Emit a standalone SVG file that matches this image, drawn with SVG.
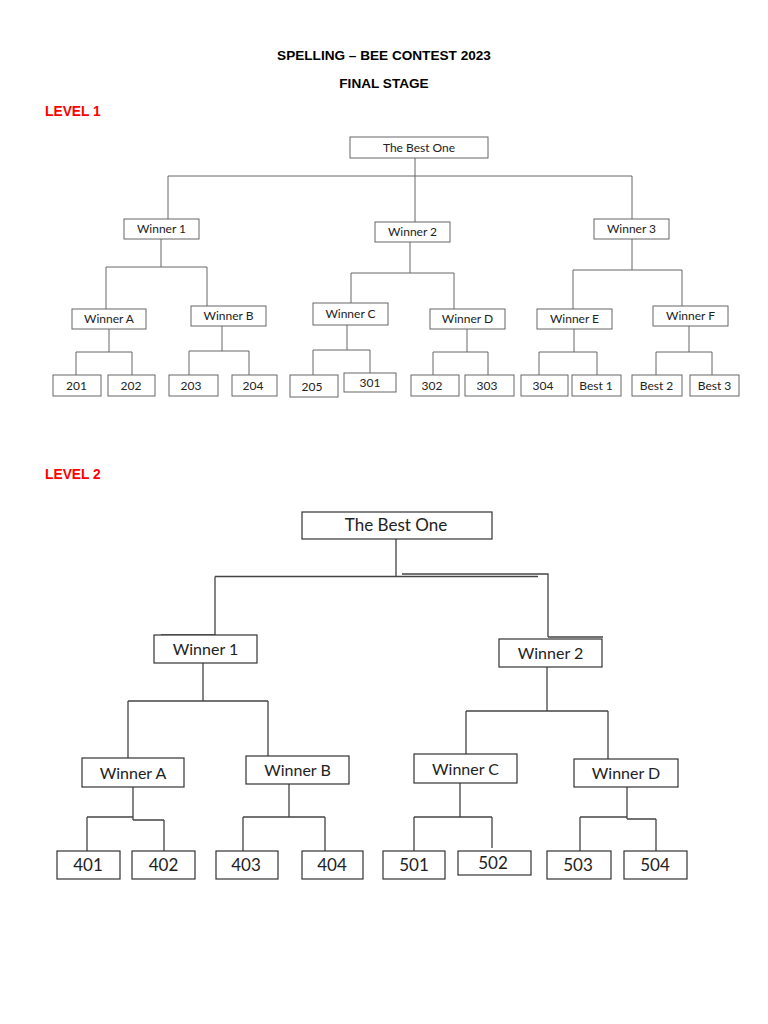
<svg xmlns="http://www.w3.org/2000/svg" width="768" height="1024" viewBox="0 0 768 1024">
<style>
.title{font-family:"Liberation Sans",Arial,sans-serif;font-weight:bold;font-size:13.6px;fill:#000;text-anchor:middle}
.lvl{font-family:"Liberation Sans",Arial,sans-serif;font-weight:bold;font-size:13.8px;fill:#ff0000}
.b1{fill:#fff;stroke:#666;stroke-width:1}
.t1{font-family:Lato,"Open Sans",sans-serif;font-size:12px;fill:#222;text-anchor:middle}
.b2{fill:#fff;stroke:#333;stroke-width:1.2}
.t2{font-family:Lato,"Open Sans",sans-serif;font-size:16px;fill:#222;text-anchor:middle}
.t2b{font-family:Lato,"Open Sans",sans-serif;font-size:17px;fill:#222;text-anchor:middle}
.c1{fill:none;stroke:#666;stroke-width:1}
.c2{fill:none;stroke:#444;stroke-width:1.3}
</style>
<rect width="768" height="1024" fill="#fff"/>
<text class="title" x="384" y="60">SPELLING – BEE CONTEST 2023</text>
<text class="title" x="384" y="88">FINAL STAGE</text>
<text class="lvl" x="45" y="116">LEVEL 1</text>
<text class="lvl" x="45" y="479">LEVEL 2</text>

<g id="connectors">
<!-- Level 1 -->
<path class="c1" d="M415 158V222M168 176H632M168 176V219M632 176V219"/>
<path class="c1" d="M161 239V267M106 267H207M106 267V309M207 267V306"/>
<path class="c1" d="M410 242V273M351 273H454M351 273V303M454 273V309"/>
<path class="c1" d="M632 239V270M573 270H682M573 270V309M682 270V306"/>
<path class="c1" d="M109 328V352M76 352H132M76 352V375M132 352V375"/>
<path class="c1" d="M222 326V351M189 351H249M189 351V375M249 351V375"/>
<path class="c1" d="M347 325V350M313 350H370M313 350V375M370 350V373"/>
<path class="c1" d="M467 329V352M433 352H488M433 352V375M488 352V375"/>
<path class="c1" d="M574 329V352M539 352H597M539 352V375M597 352V375"/>
<path class="c1" d="M689 326V352M656 352H712M656 352V375M712 352V375"/>
<!-- Level 2 -->
<path class="c2" d="M396 539V576.5M215 576.5H538M215 576.5V635M161 635H215"/>
<path class="c2" d="M402 574H548V637M548 637H603"/>
<path class="c2" d="M203 663V701M128 701H268M128 701V758M268 701V756"/>
<path class="c2" d="M547 667V711M466 711H608M466 711V754M608 711V759"/>
<path class="c2" d="M133 787V817M87 817H133M133 820H164M87 817V851M164 820V851M133 817V820"/>
<path class="c2" d="M289 784V817M243 817H325M243 817V851M325 817V851"/>
<path class="c2" d="M460 783V817M414 817H492M414 817V851M492 817V848"/>
<path class="c2" d="M627 787V819M580 817H627M627 819H656M580 817V851M656 819V851"/>
</g>

<!-- Level 1 nodes -->
<g id="l1-best"><rect class="b1" x="350" y="137" width="138" height="21"/><text class="t1" x="419" y="151.5">The Best One</text></g>
<g id="l1-w1"><rect class="b1" x="124" y="219" width="75" height="20"/><text class="t1" x="161.5" y="233">Winner 1</text></g>
<g id="l1-w2"><rect class="b1" x="375" y="222" width="75" height="20"/><text class="t1" x="412.5" y="236">Winner 2</text></g>
<g id="l1-w3"><rect class="b1" x="594" y="219" width="75" height="20"/><text class="t1" x="631.5" y="233">Winner 3</text></g>
<g id="l1-wa"><rect class="b1" x="72" y="309" width="74" height="20"/><text class="t1" x="109" y="323">Winner A</text></g>
<g id="l1-wb"><rect class="b1" x="191" y="306" width="75" height="20"/><text class="t1" x="228.5" y="320">Winner B</text></g>
<g id="l1-wc"><rect class="b1" x="313" y="303" width="75" height="22"/><text class="t1" x="350.5" y="318">Winner C</text></g>
<g id="l1-wd"><rect class="b1" x="430" y="309" width="75" height="20"/><text class="t1" x="467.5" y="323">Winner D</text></g>
<g id="l1-we"><rect class="b1" x="537" y="309" width="75" height="20"/><text class="t1" x="574.5" y="323">Winner E</text></g>
<g id="l1-wf"><rect class="b1" x="653" y="306" width="75" height="20"/><text class="t1" x="690.5" y="320">Winner F</text></g>
<g id="l1-201"><rect class="b1" x="53" y="375" width="48" height="21"/><text class="t1" x="76.5" y="390">201</text></g>
<g id="l1-202"><rect class="b1" x="108" y="375" width="47" height="21"/><text class="t1" x="131" y="390">202</text></g>
<g id="l1-203"><rect class="b1" x="169" y="375" width="49" height="21"/><text class="t1" x="191" y="390">203</text></g>
<g id="l1-204"><rect class="b1" x="232" y="375" width="45" height="21"/><text class="t1" x="253" y="390">204</text></g>
<g id="l1-205"><rect class="b1" x="290" y="375" width="48" height="22"/><text class="t1" x="312" y="390.5">205</text></g>
<g id="l1-301"><rect class="b1" x="344" y="373" width="52" height="19"/><text class="t1" x="370" y="387">301</text></g>
<g id="l1-302"><rect class="b1" x="411" y="375" width="48" height="21"/><text class="t1" x="432" y="390">302</text></g>
<g id="l1-303"><rect class="b1" x="465" y="375" width="49" height="21"/><text class="t1" x="487" y="390">303</text></g>
<g id="l1-304"><rect class="b1" x="521" y="375" width="47" height="21"/><text class="t1" x="543" y="390">304</text></g>
<g id="l1-best1"><rect class="b1" x="572" y="375" width="49" height="21"/><text class="t1" x="596" y="390">Best 1</text></g>
<g id="l1-best2"><rect class="b1" x="632" y="375" width="50" height="21"/><text class="t1" x="656.5" y="390">Best 2</text></g>
<g id="l1-best3"><rect class="b1" x="690" y="375" width="49" height="21"/><text class="t1" x="714.5" y="390">Best 3</text></g>

<!-- Level 2 nodes -->
<g id="l2-best"><rect class="b2" x="302" y="512" width="190" height="27"/><text class="t2b" x="396" y="531">The Best One</text></g>
<g id="l2-w1"><rect class="b2" x="154" y="635" width="103" height="28"/><text class="t2" x="205.5" y="654.5">Winner 1</text></g>
<g id="l2-w2"><rect class="b2" x="499" y="639" width="103" height="28"/><text class="t2" x="550.5" y="659">Winner 2</text></g>
<g id="l2-wa"><rect class="b2" x="82" y="758" width="102" height="29"/><text class="t2" x="133" y="778.5">Winner A</text></g>
<g id="l2-wb"><rect class="b2" x="246" y="756" width="103" height="28"/><text class="t2" x="297.5" y="775.5">Winner B</text></g>
<g id="l2-wc"><rect class="b2" x="414" y="754" width="103" height="29"/><text class="t2" x="465.5" y="774.5">Winner C</text></g>
<g id="l2-wd"><rect class="b2" x="574" y="759" width="104" height="28"/><text class="t2" x="626" y="778.5">Winner D</text></g>
<g id="l2-401"><rect class="b2" x="57" y="851" width="63" height="28"/><text class="t2b" x="88" y="871">401</text></g>
<g id="l2-402"><rect class="b2" x="132" y="851" width="63" height="28"/><text class="t2b" x="163.5" y="871">402</text></g>
<g id="l2-403"><rect class="b2" x="216" y="851" width="62" height="28"/><text class="t2b" x="246" y="871">403</text></g>
<g id="l2-404"><rect class="b2" x="302" y="851" width="61" height="28"/><text class="t2b" x="332" y="871">404</text></g>
<g id="l2-501"><rect class="b2" x="383" y="851" width="62" height="28"/><text class="t2b" x="414" y="871">501</text></g>
<g id="l2-502"><rect class="b2" x="458" y="851" width="73" height="24"/><text class="t2b" x="493" y="869">502</text></g>
<g id="l2-503"><rect class="b2" x="547" y="851" width="64" height="28"/><text class="t2b" x="578" y="871">503</text></g>
<g id="l2-504"><rect class="b2" x="624" y="851" width="63" height="28"/><text class="t2b" x="655" y="871">504</text></g>
</svg>
